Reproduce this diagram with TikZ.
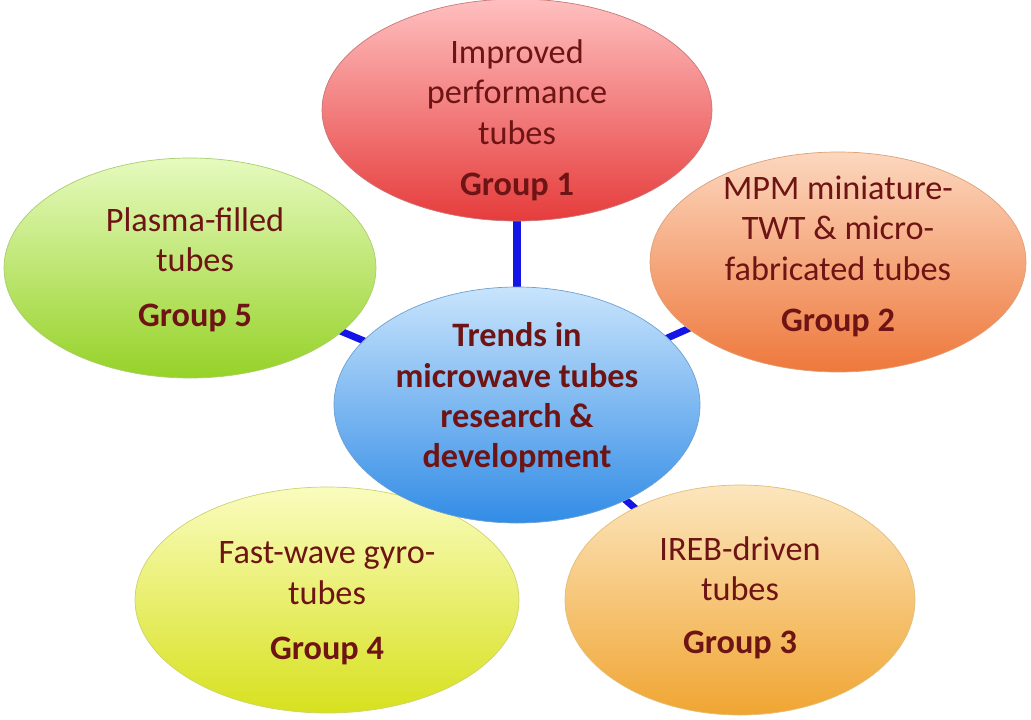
\documentclass[tikz,border=0pt]{standalone}
\usepackage{fontspec}
\setmainfont{Carlito}
\definecolor{txt}{HTML}{6E1414}
\begin{document}
\begin{tikzpicture}[x=0.02cm,y=-0.02cm,
  lbl/.style={text=txt,align=center,font=\fontsize{19.5}{23}\selectfont},
  grp/.style={text=txt,font=\fontsize{19.5}{20}\selectfont\bfseries},
  link/.style={draw={rgb,255:red,20;green,20;blue,230},line width=4pt}]
\useasboundingbox (0,0) rectangle (1031,720);
\coordinate (c) at (517,405);
\coordinate (g1) at (517,110);
\coordinate (g2) at (838,262);
\coordinate (g3) at (740,600);
\coordinate (g4) at (327,600);
\coordinate (g5) at (190,268);
\foreach \g in {g1,g2,g3,g4,g5} \draw[link] (c) -- (\g);
\shade[top color=red!25!white,bottom color={rgb,255:red,230;green,60;blue,60},draw={rgb,255:red,200;green,120;blue,120}] (g1) ellipse [x radius=195,y radius=111];
\shade[top color={rgb,255:red,252;green,215;blue,190},bottom color={rgb,255:red,238;green,120;blue,60},draw={rgb,255:red,220;green,160;blue,120}] (g2) ellipse [x radius=188,y radius=110];
\shade[top color={rgb,255:red,252;green,230;blue,190},bottom color={rgb,255:red,240;green,165;blue,50},draw={rgb,255:red,225;green,190;blue,120}] (g3) ellipse [x radius=175,y radius=115];
\shade[top color={rgb,255:red,250;green,252;blue,190},bottom color={rgb,255:red,215;green,225;blue,30},draw={rgb,255:red,205;green,210;blue,110}] (g4) ellipse [x radius=192,y radius=113];
\shade[top color={rgb,255:red,230;green,250;blue,190},bottom color={rgb,255:red,150;green,210;blue,40},draw={rgb,255:red,170;green,205;blue,110}] (g5) ellipse [x radius=186,y radius=110];
\shade[top color={rgb,255:red,200;green,228;blue,252},bottom color={rgb,255:red,50;green,140;blue,230},draw={rgb,255:red,110;green,160;blue,210}] (c) ellipse [x radius=183,y radius=118];
\node[lbl] (t1) at (517,92) {Improved\\performance\\tubes};
\node[grp] (h1) at (517,187) {Group 1};
\node[lbl] (t2) at (838,228) {MPM miniature-\\TWT \& micro-\\fabricated tubes};
\node[grp] (h2) at (838,323) {Group 2};
\node[lbl] (t3) at (740,569) {IREB-driven\\tubes};
\node[grp] (h3) at (740,645) {Group 3};
\node[lbl] (t4) at (327,573) {Fast-wave gyro-\\tubes};
\node[grp] (h4) at (327,651) {Group 4};
\node[lbl] (t5) at (195,240) {Plasma-filled\\tubes};
\node[grp] (h5) at (195,318) {Group 5};
\node[grp,align=center,font=\fontsize{19.5}{23}\selectfont\bfseries] (tc) at (517,398) {Trends in\\microwave tubes\\research \&\\development};
\end{tikzpicture}
\end{document}
